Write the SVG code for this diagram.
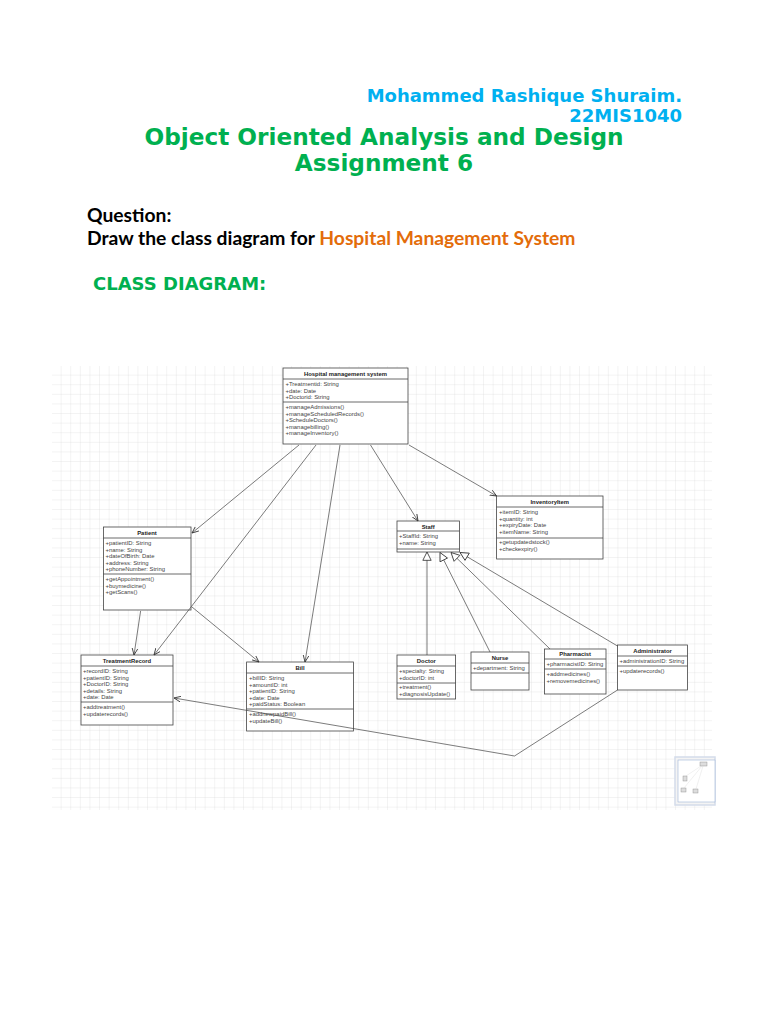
<svg xmlns="http://www.w3.org/2000/svg" width="768" height="1024" viewBox="0 0 768 1024">
<defs>
<pattern id="grid" x="52" y="366" width="9.6" height="9.6" patternUnits="userSpaceOnUse">
<path d="M9.6 0V9.6M0 9.6H9.6" fill="none" stroke="#d8d8d8" stroke-width="0.6"/>
</pattern>
<marker id="open" viewBox="0 0 10 10" refX="9.5" refY="5" markerWidth="7" markerHeight="7" orient="auto" markerUnits="userSpaceOnUse">
<path d="M0 1L9.5 5L0 9" fill="none" stroke="#333" stroke-width="1.2"/>
</marker>
<marker id="gen" viewBox="0 0 12 12" refX="11" refY="6" markerWidth="10" markerHeight="10" orient="auto" markerUnits="userSpaceOnUse">
<path d="M1 1L11 6L1 11Z" fill="#fff" stroke="#333" stroke-width="1"/>
</marker>
</defs>
<style>
.hd{font-family:"DejaVu Sans",sans-serif;font-weight:bold}
.q{font-family:Lato,"Liberation Sans",sans-serif;font-weight:bold;font-size:19.3px}
.box{fill:#fff;stroke:#444;stroke-width:0.8}
.sep{stroke:#444;stroke-width:0.8}
.t{font-family:"Liberation Sans",Arial,sans-serif;font-size:5.9px;fill:#444}
.tt{font-family:"Liberation Sans",Arial,sans-serif;font-size:5.9px;font-weight:bold;fill:#222;text-anchor:middle}
.c{fill:none;stroke:#444;stroke-width:0.7}
</style>
<rect width="768" height="1024" fill="#fff"/>
<text class="hd" x="682" y="102" font-size="18" fill="#00b0f0" text-anchor="end">Mohammed Rashique Shuraim.</text>
<text class="hd" x="682" y="122" font-size="18" fill="#00b0f0" text-anchor="end">22MIS1040</text>
<text class="hd" x="384" y="145" font-size="23.2" fill="#00b050" text-anchor="middle">Object Oriented Analysis and Design</text>
<text class="hd" x="384" y="171" font-size="23.2" fill="#00b050" text-anchor="middle">Assignment 6</text>
<text class="q" x="87" y="222" fill="#000">Question:</text>
<text class="q" x="87" y="245" fill="#000">Draw the class diagram for <tspan fill="#e36c0a">Hospital Management System</tspan></text>
<text class="hd" x="93" y="290" font-size="18" fill="#00b050">CLASS DIAGRAM:</text>

<rect x="52" y="366" width="660" height="444" fill="url(#grid)"/>

<g id="minimap">
<rect x="675" y="757" width="40" height="48" fill="#f4f4f4" stroke="#d4dcea" stroke-width="1.5"/>
<rect x="678" y="760" width="37" height="42" fill="#fff" stroke="#9fb4d8" stroke-width="0.6"/>
<rect x="700" y="762" width="7" height="4" fill="#ddd" stroke="#888" stroke-width="0.4"/>
<rect x="683" y="776" width="4" height="5" fill="#ddd" stroke="#888" stroke-width="0.4"/>
<rect x="681" y="788" width="5" height="4" fill="#ddd" stroke="#888" stroke-width="0.4"/>
<rect x="693" y="789" width="5" height="4" fill="#ddd" stroke="#888" stroke-width="0.4"/>
<path d="M701 766L686 776M702 766L684 788M703 766L696 789" stroke="#ccc" stroke-width="0.3" fill="none"/>
</g>

<g id="hms">
<rect class="box" x="283" y="368" width="125" height="76"/>
<line class="sep" x1="283" y1="379" x2="408" y2="379"/>
<line class="sep" x1="283" y1="402" x2="408" y2="402"/>
<text class="tt" x="345.5" y="376">Hospital management system</text>
<text class="t" x="285.5" y="386">+Treatmentid: String</text>
<text class="t" x="285.5" y="392.5">+date: Date</text>
<text class="t" x="285.5" y="399">+Doctorid: String</text>
<text class="t" x="285.5" y="409">+manageAdmissions()</text>
<text class="t" x="285.5" y="415.5">+manageScheduledRecords()</text>
<text class="t" x="285.5" y="422">+ScheduleDoctors()</text>
<text class="t" x="285.5" y="428.5">+managebilling()</text>
<text class="t" x="285.5" y="435">+manageInventory()</text>
</g>

<g id="patient">
<rect class="box" x="103.4" y="527" width="87.6" height="83"/>
<line class="sep" x1="103.4" y1="538" x2="191" y2="538"/>
<line class="sep" x1="103.4" y1="574" x2="191" y2="574"/>
<text class="tt" x="147" y="535">Patient</text>
<text class="t" x="105.5" y="545">+patientID: String</text>
<text class="t" x="105.5" y="551.5">+name: String</text>
<text class="t" x="105.5" y="558">+dateOfBirth: Date</text>
<text class="t" x="105.5" y="564.5">+address: String</text>
<text class="t" x="105.5" y="571">+phoneNumber: String</text>
<text class="t" x="105.5" y="581">+getAppointment()</text>
<text class="t" x="105.5" y="587.5">+buymedicine()</text>
<text class="t" x="105.5" y="594">+getScans()</text>
</g>

<g id="treatmentrecord">
<rect class="box" x="81" y="655" width="92" height="70"/>
<line class="sep" x1="81" y1="666" x2="173" y2="666"/>
<line class="sep" x1="81" y1="702" x2="173" y2="702"/>
<text class="tt" x="127" y="663">TreatmentRecord</text>
<text class="t" x="83" y="673">+recordID: String</text>
<text class="t" x="83" y="679.5">+patientID: String</text>
<text class="t" x="83" y="686">+DoctorID: String</text>
<text class="t" x="83" y="692.5">+details: String</text>
<text class="t" x="83" y="699">+date: Date</text>
<text class="t" x="83" y="709">+addtreatment()</text>
<text class="t" x="83" y="715.5">+updaterecords()</text>
</g>

<g id="bill">
<rect class="box" x="246.6" y="662" width="106.8" height="69"/>
<line class="sep" x1="246.6" y1="673" x2="353.4" y2="673"/>
<line class="sep" x1="246.6" y1="709" x2="353.4" y2="709"/>
<text class="tt" x="300" y="670">Bill</text>
<text class="t" x="249" y="680">+billID: String</text>
<text class="t" x="249" y="686.5">+amountID: int</text>
<text class="t" x="249" y="693">+patientID: String</text>
<text class="t" x="249" y="699.5">+date: Date</text>
<text class="t" x="249" y="706">+paidStatus: Boolean</text>
<text class="t" x="249" y="716">+addnewpaidBill()</text>
<text class="t" x="249" y="722.5">+updateBill()</text>
</g>

<g id="staff">
<rect class="box" x="397" y="521" width="62.4" height="31"/>
<line class="sep" x1="397" y1="531" x2="459.4" y2="531"/>
<line class="sep" x1="397" y1="549" x2="459.4" y2="549"/>
<text class="tt" x="428.2" y="528.5">Staff</text>
<text class="t" x="399" y="538">+StaffId: String</text>
<text class="t" x="399" y="544.5">+name: String</text>
</g>

<g id="inventoryitem">
<rect class="box" x="496.6" y="496" width="106.4" height="63"/>
<line class="sep" x1="496.6" y1="507" x2="603" y2="507"/>
<line class="sep" x1="496.6" y1="538" x2="603" y2="538"/>
<text class="tt" x="549.8" y="504">InventoryItem</text>
<text class="t" x="499" y="514">+itemID: String</text>
<text class="t" x="499" y="520.5">+quantity: int</text>
<text class="t" x="499" y="527">+expiryDate: Date</text>
<text class="t" x="499" y="533.5">+itemName: String</text>
<text class="t" x="499" y="544">+getupdatedstock()</text>
<text class="t" x="499" y="550.5">+checkexpiry()</text>
</g>

<g id="doctor">
<rect class="box" x="397" y="655" width="58.6" height="44"/>
<line class="sep" x1="397" y1="666" x2="455.6" y2="666"/>
<line class="sep" x1="397" y1="683" x2="455.6" y2="683"/>
<text class="tt" x="426.3" y="663">Doctor</text>
<text class="t" x="399" y="673">+specialty: String</text>
<text class="t" x="399" y="679.5">+doctorID: int</text>
<text class="t" x="399" y="689">+treatment()</text>
<text class="t" x="399" y="695.5">+diagnosisUpdate()</text>
</g>

<g id="nurse">
<rect class="box" x="471" y="652" width="58" height="38"/>
<line class="sep" x1="471" y1="663" x2="529" y2="663"/>
<line class="sep" x1="471" y1="673" x2="529" y2="673"/>
<text class="tt" x="500" y="659.5">Nurse</text>
<text class="t" x="473" y="669.5">+department: String</text>
</g>

<g id="pharmacist">
<rect class="box" x="544.4" y="649" width="61.6" height="45"/>
<line class="sep" x1="544.4" y1="659" x2="606" y2="659"/>
<line class="sep" x1="544.4" y1="669" x2="606" y2="669"/>
<text class="tt" x="575.2" y="656">Pharmacist</text>
<text class="t" x="546.5" y="666">+pharmacistID: String</text>
<text class="t" x="546.5" y="676">+addmedicines()</text>
<text class="t" x="546.5" y="682.5">+removemedicines()</text>
</g>

<g id="administrator">
<rect class="box" x="617.5" y="645" width="70" height="45"/>
<line class="sep" x1="617.5" y1="656" x2="687.5" y2="656"/>
<line class="sep" x1="617.5" y1="666" x2="687.5" y2="666"/>
<text class="tt" x="652.5" y="653">Administrator</text>
<text class="t" x="619.5" y="662.5">+administrationID: String</text>
<text class="t" x="619.5" y="673">+updaterecords()</text>
</g>

<g id="connectors">
<line class="c" x1="299" y1="445" x2="192" y2="533" marker-end="url(#open)"/>
<line class="c" x1="316" y1="445" x2="154" y2="655" marker-end="url(#open)"/>
<line class="c" x1="340" y1="445" x2="305" y2="662" marker-end="url(#open)"/>
<line class="c" x1="370.5" y1="445" x2="418" y2="521" marker-end="url(#open)"/>
<line class="c" x1="409" y1="445" x2="496.6" y2="496" marker-end="url(#open)"/>
<line class="c" x1="140.6" y1="611" x2="134" y2="655" marker-end="url(#open)"/>
<line class="c" x1="192" y1="607" x2="259" y2="662" marker-end="url(#open)"/>
<line class="c" x1="427" y1="655" x2="427" y2="552" marker-end="url(#gen)"/>
<line class="c" x1="490" y1="652" x2="440" y2="552.5" marker-end="url(#gen)"/>
<line class="c" x1="550" y1="649" x2="451" y2="552.5" marker-end="url(#gen)"/>
<line class="c" x1="617.5" y1="646" x2="460" y2="552.5" marker-end="url(#gen)"/>
<polyline class="c" points="617.5,690 514.5,756 174,698" marker-end="url(#open)"/>
</g>
</svg>
